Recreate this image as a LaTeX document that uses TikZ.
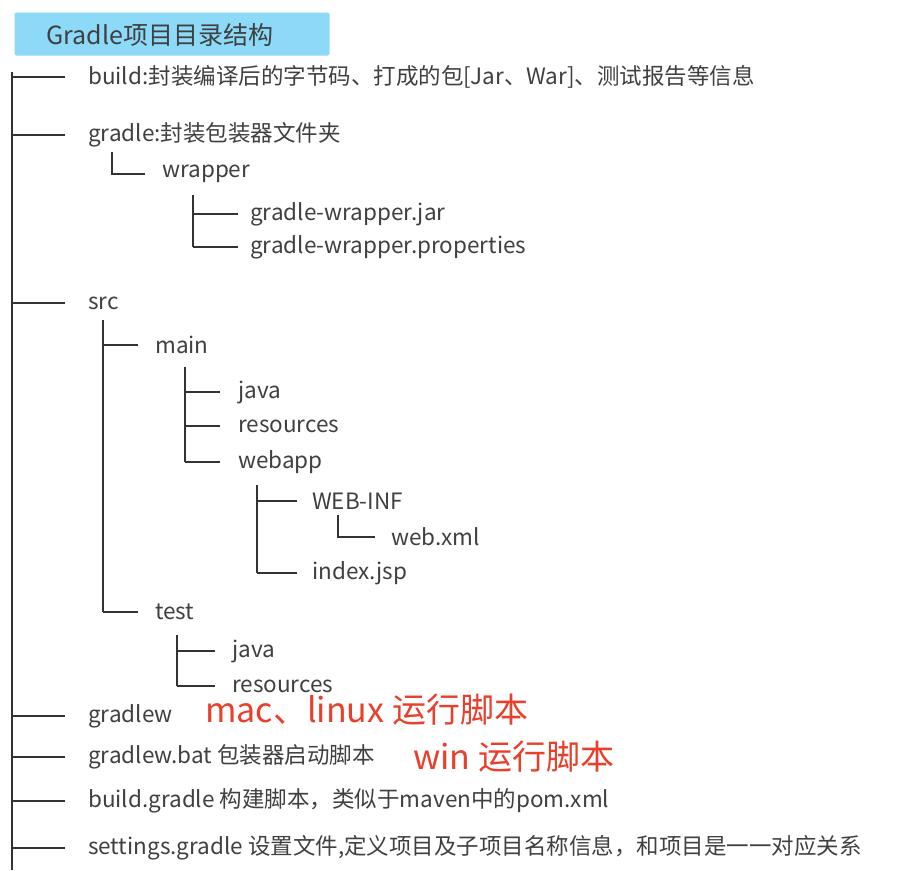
\documentclass[tikz,border=0pt]{standalone}
\usepackage{fontspec}
\setmainfont{Noto Sans CJK SC}
\definecolor{ann}{HTML}{E8402C}
\begin{document}
\begin{tikzpicture}[x=1pt,y=-1pt,
  ln/.style={draw=black!80,line width=1.6pt},
  lbl/.style={anchor=west,inner sep=0pt,text=black!75,font=\fontsize{22.5}{24}\selectfont},
  red/.style={anchor=west,inner sep=0pt,text=ann,font=\fontsize{34}{36}\selectfont}]
\useasboundingbox[fill=white] (0,0) rectangle (912,870);
\node[fill=cyan!45!white,rounded corners=2pt,minimum width=315pt,minimum height=43pt,inner sep=0pt] (title) at (172,34) {};
\node[inner sep=0pt,text=black!75,font=\fontsize{25}{27}\selectfont] (tt) at (160,35) {Gradle项目目录结构};
% root
\coordinate (r0) at (12,72); \coordinate (r1) at (12,870);
\draw[ln] (r0) -- (r1);
\foreach \n/\y/\t in {b/77/{build:封装编译后的字节码、打成的包[Jar、War]、测试报告等信息},
 g/135/{gradle:封装包装器文件夹}, s/303/src, gw/716/gradlew, gb/757/{gradlew.bat 包装器启动脚本},
 bg/801/{build.gradle 构建脚本，类似于maven中的pom.xml},
 sg/848/{settings.gradle 设置文件,定义项目及子项目名称信息，和项目是一一对应关系}}{
  \coordinate (t\n) at (12,\y);
  \node[lbl] (\n) at (88,\y) {\t};
  \draw[ln] (t\n) -- ++(53,0);
}
% wrapper
\node[lbl] (w) at (162,174) {wrapper};
\coordinate (gv) at (112,152);
\draw[ln] (gv) |- (145,174);
\coordinate (wv) at (193,195);
\draw[ln] (wv) -- (193,247);
\foreach \n/\y/\t in {wj/214/gradle-wrapper.jar, wp/247/gradle-wrapper.properties}{
  \node[lbl] (\n) at (250,\y) {\t}; \draw[ln] (193,\y) -- (238,\y);}
% src
\draw[ln] (103,320) -- (103,612);
\foreach \n/\y/\t in {m/345/main, te/612/test}{
  \node[lbl] (\n) at (155,\y) {\t}; \draw[ln] (103,\y) -- (138,\y);}
\draw[ln] (185,367) -- (185,462);
\foreach \n/\y/\t in {mj/392/java, mr/426/resources, mw/462/webapp}{
  \node[lbl] (\n) at (238,\y) {\t}; \draw[ln] (185,\y) -- (220,\y);}
\draw[ln] (257,485) -- (257,573);
\foreach \n/\y/\t in {wi/501/WEB-INF, ix/573/index.jsp}{
  \node[lbl] (\n) at (312,\y) {\t}; \draw[ln] (257,\y) -- (297,\y);}
\draw[ln] (338,515) |- (375,537);
\node[lbl] (wx) at (391,537) {web.xml};
\draw[ln] (177,635) -- (177,686);
\foreach \n/\y/\t in {tj/651/java, tr/686/resources}{
  \node[lbl] (\n) at (232,\y) {\t}; \draw[ln] (177,\y) -- (215,\y);}
\node[red] (a1) at (205,710) {mac、linux 运行脚本};
\node[red] (a2) at (413,757) {win 运行脚本};
\end{tikzpicture}
\end{document}
